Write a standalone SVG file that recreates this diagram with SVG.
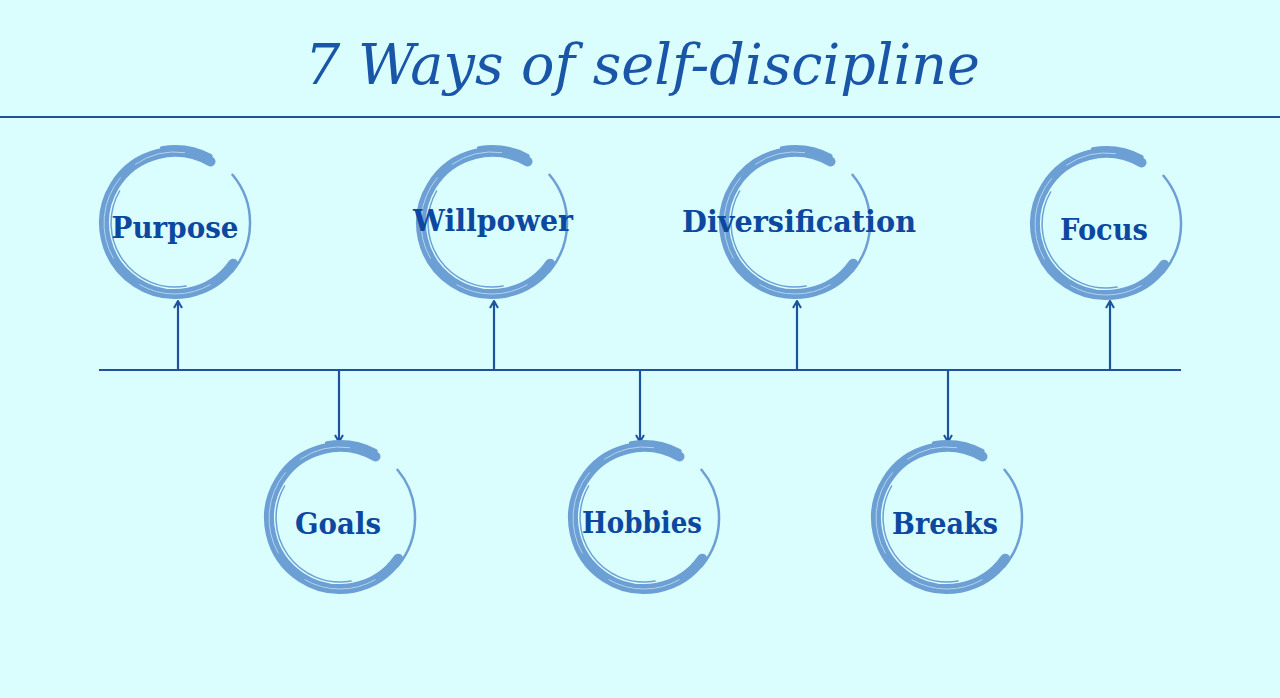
<svg xmlns="http://www.w3.org/2000/svg" xmlns:xlink="http://www.w3.org/1999/xlink" width="1280" height="698" viewBox="0 0 1280 698">
<defs>
<style>
.bg{fill:#dafefe}
.title{font-family:"DejaVu Serif","Liberation Serif",serif;font-style:italic;font-size:56px;fill:#1a56a8}
.lbl{font-family:"DejaVu Serif","Liberation Serif",serif;font-weight:bold;font-size:29px;fill:#0c48a0;text-anchor:middle}
.ln{stroke:#1d539e;stroke-width:2.2;fill:none}
.rt{stroke:#6c9fd4;fill:none;stroke-linecap:round}
.rs{stroke:#b4d2ee;fill:none;stroke-width:1}
</style>
<marker id="ah" viewBox="0 0 10 10" refX="9" refY="5" markerWidth="10" markerHeight="10" markerUnits="userSpaceOnUse" orient="auto">
<path d="M2,1 L9,5 L2,9" fill="none" stroke="#1d539e" stroke-width="2"/>
</marker>
<g id="ring">
<path class="rt" d="M35.5,-61.5 A71,71 0 1 0 58.2,40.7" stroke-width="10"/>
<path class="rt" d="M35.7,-67.1 A76,76 0 0 0 -13.2,-74.8" stroke-width="4"/>
<path class="rt" d="M57.5,48.2 A75,75 0 0 0 57.5,-48.2" stroke-width="2.5"/>
<path class="rt" d="M11.1,63 A64,64 0 0 1 -55.4,-32" stroke-width="1.5"/>
<path class="rs" d="M-61.5,35.5 A71,71 0 0 1 -54.4,-45.6"/>
<path class="rs" d="M35.5,61.5 A71,71 0 0 1 -35.5,61.5"/>
<path class="rs" d="M-40,-58.5 A71,71 0 0 1 10,-70.3"/>
</g>
</defs>
<rect class="bg" x="0" y="0" width="1280" height="698"/>
<g id="title">
<text class="title" x="305" y="84" textLength="675" lengthAdjust="spacingAndGlyphs">7 Ways of self-discipline</text>
<line class="ln" x1="0" y1="117" x2="1280" y2="117"/>
</g>
<g id="connectors">
<line class="ln" x1="99" y1="370" x2="1181" y2="370"/>
<line class="ln" x1="178" y1="370" x2="178" y2="301" marker-end="url(#ah)"/>
<line class="ln" x1="494" y1="370" x2="494" y2="301" marker-end="url(#ah)"/>
<line class="ln" x1="797" y1="370" x2="797" y2="301" marker-end="url(#ah)"/>
<line class="ln" x1="1110" y1="370" x2="1110" y2="301" marker-end="url(#ah)"/>
<line class="ln" x1="339" y1="370" x2="339" y2="442" marker-end="url(#ah)"/>
<line class="ln" x1="640" y1="370" x2="640" y2="442" marker-end="url(#ah)"/>
<line class="ln" x1="948" y1="370" x2="948" y2="442" marker-end="url(#ah)"/>
</g>
<g id="purpose">
<use xlink:href="#ring" transform="translate(175,223)"/>
<text class="lbl" x="175" y="238" textLength="127" lengthAdjust="spacingAndGlyphs">Purpose</text>
</g>
<g id="willpower">
<use xlink:href="#ring" transform="translate(492,223)"/>
<text class="lbl" x="493" y="231" textLength="160" lengthAdjust="spacingAndGlyphs">Willpower</text>
</g>
<g id="diversification">
<use xlink:href="#ring" transform="translate(795,223)"/>
<text class="lbl" x="799" y="232" textLength="234" lengthAdjust="spacingAndGlyphs">Diversification</text>
</g>
<g id="focus">
<use xlink:href="#ring" transform="translate(1106,224)"/>
<text class="lbl" x="1104" y="240" textLength="88" lengthAdjust="spacingAndGlyphs">Focus</text>
</g>
<g id="goals">
<use xlink:href="#ring" transform="translate(340,518)"/>
<text class="lbl" x="338" y="534" textLength="86" lengthAdjust="spacingAndGlyphs">Goals</text>
</g>
<g id="hobbies">
<use xlink:href="#ring" transform="translate(644,518)"/>
<text class="lbl" x="642" y="533" textLength="120" lengthAdjust="spacingAndGlyphs">Hobbies</text>
</g>
<g id="breaks">
<use xlink:href="#ring" transform="translate(947,518)"/>
<text class="lbl" x="945" y="534" textLength="106" lengthAdjust="spacingAndGlyphs">Breaks</text>
</g>
</svg>
